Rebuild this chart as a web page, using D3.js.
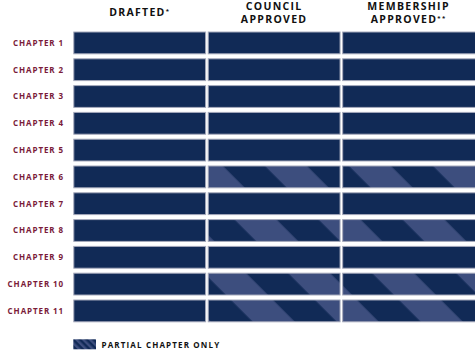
<!DOCTYPE html>
<html>
<head>
<meta charset="utf-8">
<script src="https://cdn.jsdelivr.net/npm/d3@7"></script>
<style>
  body { margin: 0; background: #fff; }
  text { font-family: "Open Sans", sans-serif; font-weight: 700; }
</style>
</head>
<body>
<div id="chart"></div>
<script>
// chapters down the side, stages across the top
const chapters = ["CHAPTER 1", "CHAPTER 2", "CHAPTER 3", "CHAPTER 4", "CHAPTER 5", "CHAPTER 6",
  "CHAPTER 7", "CHAPTER 8", "CHAPTER 9", "CHAPTER 10", "CHAPTER 11"];
const stages = ["drafted", "council", "membership"];
const stageLabels = [["DRAFTED", "*"], ["COUNCIL", "APPROVED"], ["MEMBERSHIP", "APPROVED", "**"]];
// status per stage: 1 = full chapter, 0.5 = partial chapter only
const drafted    = [1, 1, 1, 1, 1, 1, 1, 1, 1, 1, 1];
const council    = [1, 1, 1, 1, 1, 0.5, 1, 0.5, 1, 0.5, 0.5];
const membership = [1, 1, 1, 1, 1, 0.5, 1, 0.5, 1, 0.5, 0.5];
const legendLabel = "PARTIAL CHAPTER ONLY";

const width = 475, height = 364;
const navy = "#112a56", light = "#3d4e7e", maroon = "#7a1b3a", edge = "#a5a9bb";

const svg = d3.select("#chart").append("svg")
  .attr("width", width)
  .attr("height", height);

const defs = svg.append("defs");

// diagonal stripes, continuous across cells
const stripe = defs.append("pattern")
  .attr("id", "stripes")
  .attr("patternUnits", "userSpaceOnUse")
  .attr("width", 59.4)
  .attr("height", 10)
  .attr("patternTransform", "rotate(-45)");
stripe.append("rect").attr("width", 59.4).attr("height", 10).attr("fill", navy);
stripe.append("rect").attr("x", 10.6).attr("width", 29.7).attr("height", 10).attr("fill", light);

const small = defs.append("pattern")
  .attr("id", "stripesSmall")
  .attr("patternUnits", "userSpaceOnUse")
  .attr("width", 4.8)
  .attr("height", 10)
  .attr("patternTransform", "rotate(-45)");
small.append("rect").attr("width", 4.8).attr("height", 10).attr("fill", navy);
small.append("rect").attr("x", 0).attr("width", 2.4).attr("height", 10).attr("fill", light);

const x = d3.scaleBand()
  .domain(stages)
  .range([73.3, 475])
  .paddingInner(0.012);

const y = d3.scaleBand()
  .domain(chapters)
  .range([31.5, 322.3])
  .paddingInner(0.149);

const cells = [];
chapters.forEach((c, i) => {
  cells.push({chapter: c, stage: "drafted", v: drafted[i]});
  cells.push({chapter: c, stage: "council", v: council[i]});
  cells.push({chapter: c, stage: "membership", v: membership[i]});
});

svg.selectAll("rect.cell")
  .data(cells)
  .enter().append("rect")
  .attr("class", "cell")
  .attr("x", d => x(d.stage) + 0.5)
  .attr("y", d => y(d.chapter) + 0.5)
  .attr("width", d => d.stage === "membership" ? x.bandwidth() + 2 : x.bandwidth() - 1)
  .attr("height", y.bandwidth() - 1)
  .attr("fill", d => d.v === 1 ? navy : "url(#stripes)")
  .attr("stroke", edge)
  .attr("stroke-width", 1);

// row labels
svg.selectAll("text.row")
  .data(chapters)
  .enter().append("text")
  .attr("class", "row")
  .attr("x", 64)
  .attr("y", d => y(d) + y.bandwidth() / 2)
  .attr("dy", "0.36em")
  .attr("text-anchor", "end")
  .attr("font-size", 8)
  .attr("letter-spacing", 0.9)
  .attr("fill", maroon)
  .text(d => d);

// column headers
const heads = svg.selectAll("text.head")
  .data(stages)
  .enter().append("text")
  .attr("class", "head")
  .attr("x", d => x(d) + x.bandwidth() / 2)
  .attr("text-anchor", "middle")
  .attr("font-size", 10.5)
  .attr("letter-spacing", 1.3)
  .attr("fill", "#111");

heads.each(function(d, i) {
  const t = d3.select(this);
  const lab = stageLabels[i];
  const lines = lab.filter(s => !s.startsWith("*"));
  const star = lab.find(s => s.startsWith("*"));
  const top = lines.length === 1 ? 16 : 9.5;
  lines.forEach((s, j) => {
    t.append("tspan")
      .attr("x", x(d) + x.bandwidth() / 2)
      .attr("y", top + j * 13)
      .text(s);
    if (j === lines.length - 1 && star) {
      t.append("tspan")
        .attr("font-size", 6)
        .attr("dy", -3)
        .text(star);
    }
  });
});

// legend
svg.append("rect")
  .attr("x", 73.3)
  .attr("y", 339.3)
  .attr("width", 22.7)
  .attr("height", 10)
  .attr("fill", "url(#stripesSmall)");

svg.append("text")
  .attr("x", 101.5)
  .attr("y", 347.5)
  .attr("font-size", 8)
  .attr("letter-spacing", 1.15)
  .attr("fill", "#111")
  .text(legendLabel);
</script>
</body>
</html>
